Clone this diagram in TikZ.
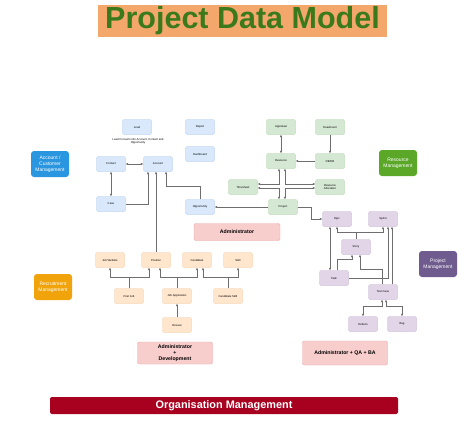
\documentclass[tikz,border=0pt]{standalone}
\usepackage{fontspec}
\setmainfont{Liberation Sans}
\definecolor{crmfill}{HTML}{DAE8FC}
\definecolor{crmdraw}{HTML}{A9C4EB}
\definecolor{resfill}{HTML}{D5E8D4}
\definecolor{resdraw}{HTML}{A8CFA0}
\definecolor{prjfill}{HTML}{E1D5E7}
\definecolor{prjdraw}{HTML}{C3B0D0}
\definecolor{recfill}{HTML}{FFE6CC}
\definecolor{recdraw}{HTML}{F0C8A0}
\definecolor{adminfill}{HTML}{F8CECC}
\definecolor{admindraw}{HTML}{E8A8A8}
\definecolor{crmtag}{HTML}{2A96E0}
\definecolor{restag}{HTML}{5BA829}
\definecolor{prjtag}{HTML}{6F5B8E}
\definecolor{rectag}{HTML}{F0A30A}
\definecolor{orgbar}{HTML}{A8001F}
\definecolor{titlefill}{HTML}{F4A76B}
\definecolor{titletext}{HTML}{3B7A1C}
\definecolor{linkgray}{HTML}{6E6E6E}
\usetikzlibrary{arrows.meta,positioning}

\begin{document}
\begin{tikzpicture}[x=1pt, y=-1pt,
  box/.style={draw, rounded corners=2pt, minimum width=29pt, minimum height=15pt,
              inner sep=1pt, font=\fontsize{2.8}{3.3}\selectfont, align=center, line width=0.3pt},
  crm/.style={box, fill=crmfill, draw=crmdraw},
  res/.style={box, fill=resfill, draw=resdraw},
  prj/.style={box, fill=prjfill, draw=prjdraw},
  rec/.style={box, fill=recfill, draw=recdraw},
  tag/.style={rounded corners=3pt, text=white, minimum width=38pt, minimum height=26pt,
              inner sep=1pt, font=\fontsize{5}{6}\selectfont, align=center},
  role/.style={draw=admindraw, fill=adminfill, rounded corners=2pt, inner sep=1pt,
               font=\fontsize{5.2}{6.2}\selectfont\bfseries, align=center},
  link/.style={draw=linkgray, line width=0.45pt, -{Latex[length=2.4pt,width=2.2pt]}},
  both/.style={link, {Latex[length=2.4pt,width=2.2pt]}-{Latex[length=2.4pt,width=2.2pt]}}]

\useasboundingbox[fill=white] (0,0) rectangle (474,424);

% === Title ===
\node[fill=titlefill, minimum width=289pt, minimum height=32pt, inner sep=0pt,
      text=titletext, font=\fontsize{30.5}{34}\selectfont\bfseries]
      (title) at (242.5,21) {Project Data Model};

% === Account / Customer ===
\node[crm] (lead) at (137,127) {Lead};
\node[font=\fontsize{2.8}{3.3}\selectfont, align=center] (leadnote) at (138,141)
     {Lead Converts into Account, Contact and\\Opportunity};
\node[crm] (report) at (200,127) {Report};
\node[crm] (dashboard) at (200,154) {Dashboard};
\node[crm] (contact) at (111,164) {Contact};
\node[crm] (account) at (158,164) {Account};
\node[crm] (case) at (111,204) {Case};
\node[crm] (opportunity) at (200,207) {Opportunity};

% === Resource ===
\node[res] (appraisal) at (281,127) {Appraisal};
\node[res] (headcount) at (330,127) {Headcount};
\node[res] (resource) at (281,161) {Resource};
\node[res] (obkb) at (330,161) {OB/KB};
\node[res] (timesheet) at (243,187) {Timesheet};
\node[res] (resalloc) at (330,187) {Resource\\Allocation};
\node[res] (project) at (283,207) {Project};

% === Project ===
\node[prj] (epic) at (337,219) {Epic};
\node[prj] (sprint) at (383,219) {Sprint};
\node[prj] (story) at (356,247) {Story};
\node[prj] (task) at (334,278) {Task};
\node[prj] (testcase) at (383,292) {Test Case};
\node[prj] (defects) at (363,324) {Defects};
\node[prj] (bug) at (402,324) {Bug};

% === Recruitment ===
\node[rec] (jobsite) at (110,260) {Job Website};
\node[rec] (position) at (156,260) {Position};
\node[rec] (candidate) at (197,260) {Candidate};
\node[rec] (skill) at (238,260) {Skill};
\node[rec] (postjob) at (129,296) {Post Job};
\node[rec] (jobapp) at (177,296) {Job Application};
\node[rec] (candskill) at (228,296) {Candidate Skill};
\node[rec] (review) at (177,325) {Review};

% === Group tags ===
\node[tag, fill=crmtag] (crmgroup) at (50,164) {Account /\\Customer\\Management};
\node[tag, fill=rectag] (recgroup) at (53,287) {Recruitment\\Management};
\node[tag, fill=restag] (resgroup) at (398,163) {Resource\\Management};
\node[tag, fill=prjtag] (prjgroup) at (438,264) {Project\\Management};

% === Roles ===
\node[role, minimum width=86pt, minimum height=17pt] (admin) at (237,232) {Administrator};
\node[role, minimum width=75pt, minimum height=22pt] (admindev) at (175,353)
     {Administrator\\+\\Development};
\node[role, minimum width=85pt, minimum height=24pt] (adminqa) at (345,353)
     {Administrator + QA + BA};

\node[fill=orgbar, rounded corners=2pt, minimum width=348pt, minimum height=17pt,
      inner sep=0pt, text=white, font=\fontsize{10.9}{12}\selectfont\bfseries]
      (org) at (224,405.5) {Organisation Management};

% === Links: account ===
\draw[both] (contact) -- (account);
\draw[both] (contact) -- (case);
\draw[link] (case.east) -| ([xshift=-10pt]account.south);
\draw[link] (opportunity.north) -- ++(0,-13) -| ([xshift=8pt]account.south);
\draw[link] (position.north) -- (position.north |- account.south);
\draw[link] (project.west) -- (opportunity.east);

% === Links: resource ===
\draw[both] (appraisal) -- (resource);
\draw[link] (headcount) -- (obkb);
\draw[link] (obkb) -- (resource);
\draw[both] ([yshift=3pt]timesheet.east) -| ([xshift=-2pt]resource.south);
\draw[both] ([yshift=3pt]resalloc.west) -| ([xshift=4pt]resource.south);
\draw[both] ([yshift=-1pt]timesheet.east) -| ([xshift=-4pt]project.north);
\draw[both] ([yshift=-1pt]resalloc.west) -| ([xshift=2pt]project.north);
\draw[link] (project.east) -- ++(14,0) |- (epic.west);

% === Links: project ===
\draw[both] ([xshift=-7pt]epic.south) -- ([xshift=-7pt]epic.south |- task.north);
\draw[link, -] (story.north) -- ++(0,-7) coordinate (storyjoin);
\draw[link] (storyjoin) -| (epic.south);
\draw[link] (storyjoin) -| (sprint.south);
\draw[link] ([xshift=3pt]task.north) -- ++(0,-11) -| ([xshift=-4pt]story.south);
\draw[link] (task.east) -| ([xshift=5pt]sprint.south);
\draw[link] ([xshift=9pt]testcase.north) -- ([xshift=9pt]sprint.south);
\draw[link] ([xshift=-1pt]testcase.north) -- ++(0,-15) -| ([xshift=4pt]story.south);
\draw[both] ([xshift=-1pt]testcase.south) -- ++(0,7) -| (defects.north);
\draw[both] ([xshift=3pt]testcase.south) -- ++(0,7) -| (bug.north);

% === Links: recruitment ===
\draw[link, -] (postjob.north) -- ++(0,-11) coordinate (postjoin);
\draw[link] (postjoin) -| (jobsite.south);
\draw[link] (postjoin) -| ([xshift=-7pt]position.south);
\draw[link, -] (jobapp.north) -- ++(0,-11) coordinate (appjoin);
\draw[link] (appjoin) -| ([xshift=4pt]position.south);
\draw[link] (appjoin) -| (candidate.south);
\draw[link, -] (candskill.north) -- ++(0,-11) coordinate (skilljoin);
\draw[link] (skilljoin) -| ([xshift=6pt]candidate.south);
\draw[link] (skilljoin) -| (skill.south);
\draw[link] (review) -- (jobapp);

\end{tikzpicture}
\end{document}
